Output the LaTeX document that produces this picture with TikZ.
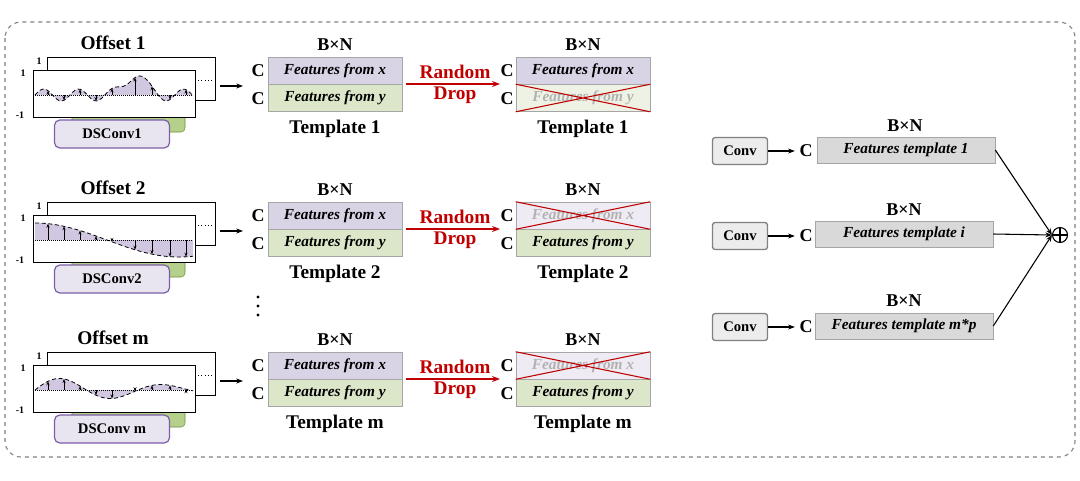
\documentclass[tikz,border=0pt]{standalone}
\usepackage{fontspec}
\setmainfont{Liberation Serif}
\usetikzlibrary{arrows.meta}
\definecolor{pur}{HTML}{D9D3E6}
\definecolor{purd}{HTML}{7B5EA7}
\definecolor{grn}{HTML}{DCE6C8}
\definecolor{grnb}{HTML}{B5D08A}
\definecolor{grnd}{HTML}{6E8E3A}
\definecolor{rd}{HTML}{C00000}
\definecolor{gb}{HTML}{D9D9D9}
\begin{document}
\begin{tikzpicture}[x=0.75pt,y=-0.75pt,
 declare function={fa(\x)=6*sin(10.3*(\x-35))+22*exp(-0.6*((\x-135)/10)^2);
   fb(\x)=17*cos(1.25*(\x-35));
   fc(\x)=13*sin(3.5*(\x-35))*(1-(\x-35)/220);},
 lbl/.style={font=\fontsize{13.5}{14}\selectfont\bfseries},
 ttl/.style={font=\fontsize{14.5}{15}\selectfont\bfseries},
 feat/.style={font=\fontsize{11.5}{12}\selectfont\bfseries\itshape},
 cbox/.style={draw=gray!70,minimum width=134*0.75pt,minimum height=27*0.75pt,inner sep=0pt},
 panel/.style={draw=black,fill=white,line width=0.6pt},
 arr/.style={-{Stealth[length=5pt]},line width=0.8pt},
 tick/.style={font=\fontsize{7.5}{8}\selectfont\bfseries}]
\useasboundingbox (0,0) rectangle (1080,480);
\draw[gray,dashed,line width=0.8pt,rounded corners=12] (5,22) rectangle (1075,457);
\foreach \s/\k/\ds/\dt/\fn [count=\i] in {0/1/DSConv1/b/fa,145/2/DSConv2/t/fb,295/m/DSConv m/t/fc}{
 \begin{scope}[yshift=-\s*0.75pt]
  \node[font=\fontsize{14.5}{15}\selectfont\bfseries] (off\i) at (113,43) {Offset \k};
  \draw[fill=grnb,draw=grnd,rounded corners=3] (72,95) rectangle (185,132);
  \draw[panel] (47,57) rectangle (215,100);
  \node[tick] at (39,61) {1};
  \draw[dotted] (195,80) -- (213,80);
  \draw[panel] (33,70) rectangle (195,117);
  \node[tick] at (23,73) {1};
  \node[tick] at (20,115) {-1};
  \fill[purd!35] plot[smooth,domain=35:193,samples=60] (\x,{95-\fn(\x)}) -- (193,95) -- (35,95) -- cycle;
  \draw[densely dotted,line width=0.5pt] (35,95) -- (193,95);
  \draw[densely dashed,line width=0.6pt] plot[smooth,domain=35:193,samples=60] (\x,{95-\fn(\x)});
  \foreach \p in {48,64,80,96,112,135,152,170,186}
     \draw[-{Stealth[length=3pt]},line width=0.6pt] (\p,95) -- (\p,{95-\fn(\p)});
  \node[draw=purd,fill=pur!60,rounded corners=4,line width=0.9pt,minimum width=115*0.75pt,minimum height=28*0.75pt,font=\fontsize{11}{11}\selectfont\bfseries] (ds\i) at (112,134) {\ds};
  \coordinate (pa\i) at (220,86);
  \coordinate (pb\i) at (243,86);
  \node[lbl] at (335,45) {B×N};
  \node[cbox,fill=pur,feat] (lx\i) at (335,70.5) {Features from \textit{x}};
  \node[cbox,fill=grn,feat] (ly\i) at (335,98) {Features from \textit{y}};
  \node[lbl] (c1\i) at (258,71) {C};
  \node[lbl] (c2\i) at (258,99) {C};
  \node[ttl] at (335,129) {Template \k};
  \draw[arr] (pa\i) -- (pb\i);
  \node[lbl] at (583,45) {B×N};
  \if\dt t
   \node[cbox,fill=pur!45,feat,text=gray!60] (rx\i) at (583,70.5) {Features from \textit{x}};
   \node[cbox,fill=grn,feat] (ry\i) at (583,98) {Features from \textit{y}};
   \draw[rd,line width=0.8pt] (rx\i.north west) -- (rx\i.south east) (rx\i.south west) -- (rx\i.north east);
  \else
   \node[cbox,fill=pur,feat] (rx\i) at (583,70.5) {Features from \textit{x}};
   \node[cbox,fill=grn!50,feat,text=gray!60] (ry\i) at (583,98) {Features from \textit{y}};
   \draw[rd,line width=0.8pt] (ry\i.north west) -- (ry\i.south east) (ry\i.south west) -- (ry\i.north east);
  \fi
  \node[lbl] at (507,71) {C};
  \node[lbl] at (507,99) {C};
  \node[ttl] at (583,129) {Template \k};
  \coordinate (ra\i) at (406,84);
  \coordinate (rb\i) at (500,84);
  \draw[-{Stealth[length=6pt]},rd,line width=1pt] (ra\i) -- (rb\i);
  \node[font=\fontsize{14.5}{15}\selectfont\bfseries,text=rd] at (455,72) {Random};
  \node[font=\fontsize{14.5}{15}\selectfont\bfseries,text=rd] at (455,95) {Drop};
 \end{scope}
}
\foreach \yy in {297,306,315} \fill (258,\yy) circle (1.6);
\tikzset{conv/.style={draw=gray,line width=1pt,fill=gray!15,rounded corners=2,minimum width=55*0.75pt,minimum height=27*0.75pt,font=\fontsize{11}{11}\selectfont\bfseries},
 ftb/.style={draw=gray!70,fill=gb,minimum width=178*0.75pt,minimum height=26*0.75pt,feat}}
\node[conv] (cv1) at (740,151) {Conv};
\node[conv] (cv2) at (740,236) {Conv};
\node[conv] (cv3) at (740,327) {Conv};
\node[lbl] (cc1) at (806,151) {C};
\node[lbl] (cc2) at (806,236) {C};
\node[lbl] (cc3) at (806,327) {C};
\node[ftb] (ft1) at (906,150) {Features template 1};
\node[ftb] (ft2) at (904,234) {Features template i};
\node[ftb] (ft3) at (904,326) {Features template m*p};
\node[lbl] at (905,126) {B×N};
\node[lbl] at (904,210) {B×N};
\node[lbl] at (904,301) {B×N};
\foreach \i in {1,2,3} \draw[arr] (cv\i) -- (cc\i);
\node[circle,draw,line width=0.8pt,minimum size=15*0.75pt,inner sep=0pt] (op) at (1060,235) {};
\draw[line width=0.8pt] (op.north) -- (op.south) (op.west) -- (op.east);
\draw[arr] (ft1.east) -- (op.west);
\draw[arr] (ft2.east) -- (op.west);
\draw[arr] (ft3.east) -- (op.west);
\end{tikzpicture}
\end{document}
